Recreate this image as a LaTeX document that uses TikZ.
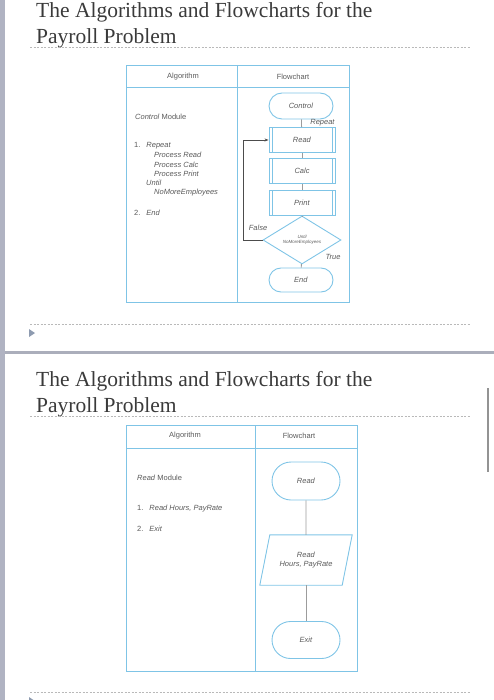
\documentclass[tikz,border=0pt]{standalone}
\usepackage{fontspec}
\setmainfont{Liberation Serif}
\setsansfont{Liberation Sans}
\usetikzlibrary{shapes.geometric,shapes.misc,arrows.meta}

\definecolor{chartblue}{HTML}{7FC4E6}
\definecolor{chartgray}{HTML}{5A5A5A}
\definecolor{linegray}{HTML}{9C9C9C}
\definecolor{sidebar}{HTML}{B0B3C2}
\definecolor{titlegray}{HTML}{3A3A3A}
\definecolor{markgray}{HTML}{8E9BB0}

\tikzset{
  title text/.style={font=\fontsize{21.5}{26}\selectfont, text=titlegray, inner sep=0pt},
  chart text/.style={font=\sffamily\fontsize{7.5}{8.5}\selectfont, text=chartgray, inner sep=0pt},
  tiny text/.style={font=\sffamily\itshape\fontsize{4.5}{5.5}\selectfont, text=chartgray, inner sep=0pt, align=center},
  tableline/.style={draw=chartblue, line width=0.9pt},
  terminal/.style={rounded rectangle, draw=chartblue, line width=0.9pt, inner sep=0pt, chart text},
  procbox/.style={draw=chartblue, line width=0.9pt, minimum width=66pt, minimum height=25pt, inner sep=0pt, chart text,
    path picture={
      \draw[chartblue, line width=0.9pt]
        ([xshift=3pt]path picture bounding box.north west) -- ([xshift=3pt]path picture bounding box.south west)
        ([xshift=-3pt]path picture bounding box.north east) -- ([xshift=-3pt]path picture bounding box.south east);
    }},
  decision/.style={diamond, draw=chartblue, line width=0.9pt, minimum width=78pt, minimum height=37pt, inner sep=0pt, tiny text},
  iobox/.style={minimum width=82pt, minimum height=50pt, inner sep=0pt, chart text, align=center},
  ioline/.style={draw=chartblue, line width=0.9pt},
  flowline/.style={draw=linegray, line width=0.8pt},
  looparrow/.style={draw=black!70, line width=0.6pt, -{Stealth[length=4pt,width=3pt]}},
  dashrule/.style={draw=gray!55, line width=0.6pt, dash pattern=on 2pt off 1.5pt}
}

\begin{document}
\begin{tikzpicture}[x=1pt, y=-1pt]
  \useasboundingbox (0,0) rectangle (494,700);
  \clip (0,0) rectangle (494,700);

  % Page furniture
  \fill[sidebar] (0,0) rectangle (5,700);
  \fill[sidebar!90!gray] (5,350.5) rectangle (494,353.5);
  \fill[gray!85] (486.5,388) rectangle (489,472);
  \fill[markgray] (29,329) -- (35,333) -- (29,337) -- cycle;
  \fill[markgray] (29,697) -- (35,701) -- (29,705) -- cycle;

  % First slide title
  \node[title text, anchor=base west] (titleA) at (36,18) {The Algorithms and Flowcharts for the};
  \node[title text, anchor=base west] (titleAb) at (36,44) {Payroll Problem};
  \draw[dashrule] (30,47) -- (470,47);

  % Control module table
  \draw[tableline] (126,65) rectangle (349,302);
  \draw[tableline] (126,87) -- (349,87);
  \draw[tableline] (237,65) -- (237,302);
  \node[chart text] (algA) at (183,77) {Algorithm};
  \node[chart text] (flowA) at (293,77) {Flowchart};

  % Control module algorithm
  \node[chart text, anchor=west] (ctrlmod) at (135,117) {\textit{Control} Module};
  \node[chart text, anchor=west] (stepA1) at (134,146) {1.\hspace{6pt}\textit{Repeat}};
  \node[chart text, anchor=west] (procread) at (154,155) {\textit{Process Read}};
  \node[chart text, anchor=west] (proccalc) at (154,165) {\textit{Process Calc}};
  \node[chart text, anchor=west] (procprint) at (154,174) {\textit{Process Print}};
  \node[chart text, anchor=west] (untiltxt) at (146,183) {\textit{Until}};
  \node[chart text, anchor=west] (nomore) at (154,193) {\textit{NoMoreEmployees}};
  \node[chart text, anchor=west] (stepA2) at (134,213) {2.\hspace{6pt}\textit{End}};

  % Control module flowchart
  \node[terminal, minimum width=64pt, minimum height=26pt] (control) at (301,106) {\textit{Control}};
  \node[procbox] (read) at (302,140) {\textit{Read}};
  \node[procbox] (calc) at (302,171) {\textit{Calc}};
  \node[procbox] (print) at (302,203) {\textit{Print}};
  \node[decision] (until) at (302,240) {Until\\NoMoreEmployees};
  \node[terminal, minimum width=64pt, minimum height=24pt] (endA) at (301,280) {\textit{End}};
  \node[chart text, anchor=east] (repeatlbl) at (335,123) {\textit{Repeat}};
  \node[chart text] (falselbl) at (258,228) {\textit{False}};
  \node[chart text] (truelbl) at (333,257) {\textit{True}};

  \draw[flowline] (control) -- (read);
  \draw[flowline] (read) -- (calc);
  \draw[flowline] (calc) -- (print);
  \draw[flowline] (print) -- (until);
  \draw[flowline] (until) -- (endA);
  \draw[looparrow] (until.west) -- ++(-19,0) |- (read.west);

  \draw[dashrule] (30,324) -- (470,324);

  % Second slide title
  \node[title text, anchor=base west] (titleB) at (36,386) {The Algorithms and Flowcharts for the};
  \node[title text, anchor=base west] (titleBb) at (36,412) {Payroll Problem};
  \draw[dashrule] (30,416) -- (470,416);

  % Read module table
  \draw[tableline] (126,425) rectangle (357,671);
  \draw[tableline] (126,448) -- (357,448);
  \draw[tableline] (255,425) -- (255,671);
  \node[chart text] (algB) at (185,436) {Algorithm};
  \node[chart text] (flowB) at (299,436) {Flowchart};

  % Read module algorithm
  \node[chart text, anchor=west] (readmod) at (137,478) {\textit{Read} Module};
  \node[chart text, anchor=west] (stepB1) at (137,509) {1.\hspace{6pt}\textit{Read Hours, PayRate}};
  \node[chart text, anchor=west] (stepB2) at (137,529) {2.\hspace{6pt}\textit{Exit}};

  % Read module flowchart
  \node[terminal, minimum width=68pt, minimum height=38pt] (readstart) at (306,481) {\textit{Read}};
  \node[iobox] (readio) at (306,560) {\textit{Read}\\\textit{Hours, PayRate}};
  \draw[ioline] ([xshift=5pt]readio.north west) -- ([xshift=5pt]readio.north east)
    -- ([xshift=-5pt]readio.south east) -- ([xshift=-5pt]readio.south west) -- cycle;
  \node[terminal, minimum width=68pt, minimum height=37pt] (exit) at (306,640) {\textit{Exit}};

  \draw[flowline] (readstart) -- (readio);
  \draw[flowline] (readio) -- (exit);

  \draw[dashrule] (30,692) -- (470,692);
\end{tikzpicture}
\end{document}
